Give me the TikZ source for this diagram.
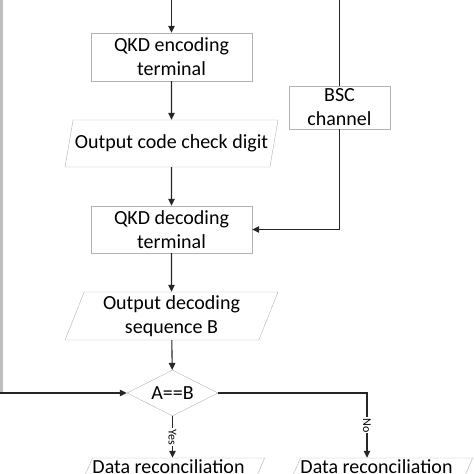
\documentclass[tikz,border=0pt]{standalone}
\usepackage{fontspec}
\setmainfont{Carlito}
\usetikzlibrary{arrows.meta,shapes.geometric}

\begin{document}
\begin{tikzpicture}[x=1pt,y=-1pt,font=\fontsize{20}{24}\selectfont,
  box/.style={draw=gray!60,rectangle,minimum width=161pt,minimum height=48pt,inner sep=0pt,align=center},
  io/.style={draw=gray!60,trapezium,trapezium left angle=65,trapezium right angle=115,trapezium stretches body,minimum width=213pt,minimum height=47pt,inner sep=0pt,align=center},
  test/.style={draw=gray!60,diamond,aspect=2,minimum width=91pt,minimum height=46pt,inner sep=0pt},
  arr/.style={draw=black!85,line width=1.1pt,-{Triangle[length=7pt,width=6.5pt]}},
  lbl/.style={font=\fontsize{12}{14}\selectfont,fill=white,inner sep=1pt}]
\useasboundingbox (0, 0) rectangle (474, 474);
\coordinate (lt) at (1.5, 0);
\coordinate (lb) at (1.5, 393);
\coordinate (bt) at (339.5, 0);
\coordinate (et) at (171.5, 0);
\node[box] (enc) at (171.5, 57) {QKD encoding\\terminal};
\node[box,minimum width=101pt,minimum height=43pt] (bsc) at (339.5, 107.5) {BSC\\channel};
\node[io] (chk) at (171.5, 143.5) {Output code check digit};
\node[box,minimum height=47pt] (dec) at (171.5, 229.5) {QKD decoding\\terminal};
\node[io,minimum height=48pt] (seq) at (171.5, 316) {Output decoding\\sequence B};
\node[test] (cmp) at (172.5, 393) {A==B};
\node[io,minimum width=189pt,text height=13pt,text depth=30pt] (rec1) at (168.5, 481.5) {Data reconciliation};
\node[io,minimum width=191pt,text height=13pt,text depth=30pt] (rec2) at (376.5, 481.5) {Data reconciliation};
\draw [arr] (et) -- (enc.north);
\draw [arr] (enc) -- (chk);
\draw [arr] (chk) -- (dec);
\draw [arr] (dec) -- (seq);
\draw [arr] (seq) -- (cmp);
\draw [draw=black!85,line width=1.1pt] (bt) -- (bsc.north);
\draw [arr] (bsc.south) |- (dec.east);
\draw [draw=gray!50,line width=2.5pt] (lt) -- (lb);
\draw [arr] (0, 393) -- (cmp.west);
\draw [arr] (cmp.south) -- node[lbl,rotate=-90] {Yes} (cmp.south |- rec1.north);
\draw [arr] (cmp.east) -| node[pos=0.75,lbl,rotate=-90] {No} ([xshift=-9.5pt]rec2.north);
\end{tikzpicture}
\end{document}
